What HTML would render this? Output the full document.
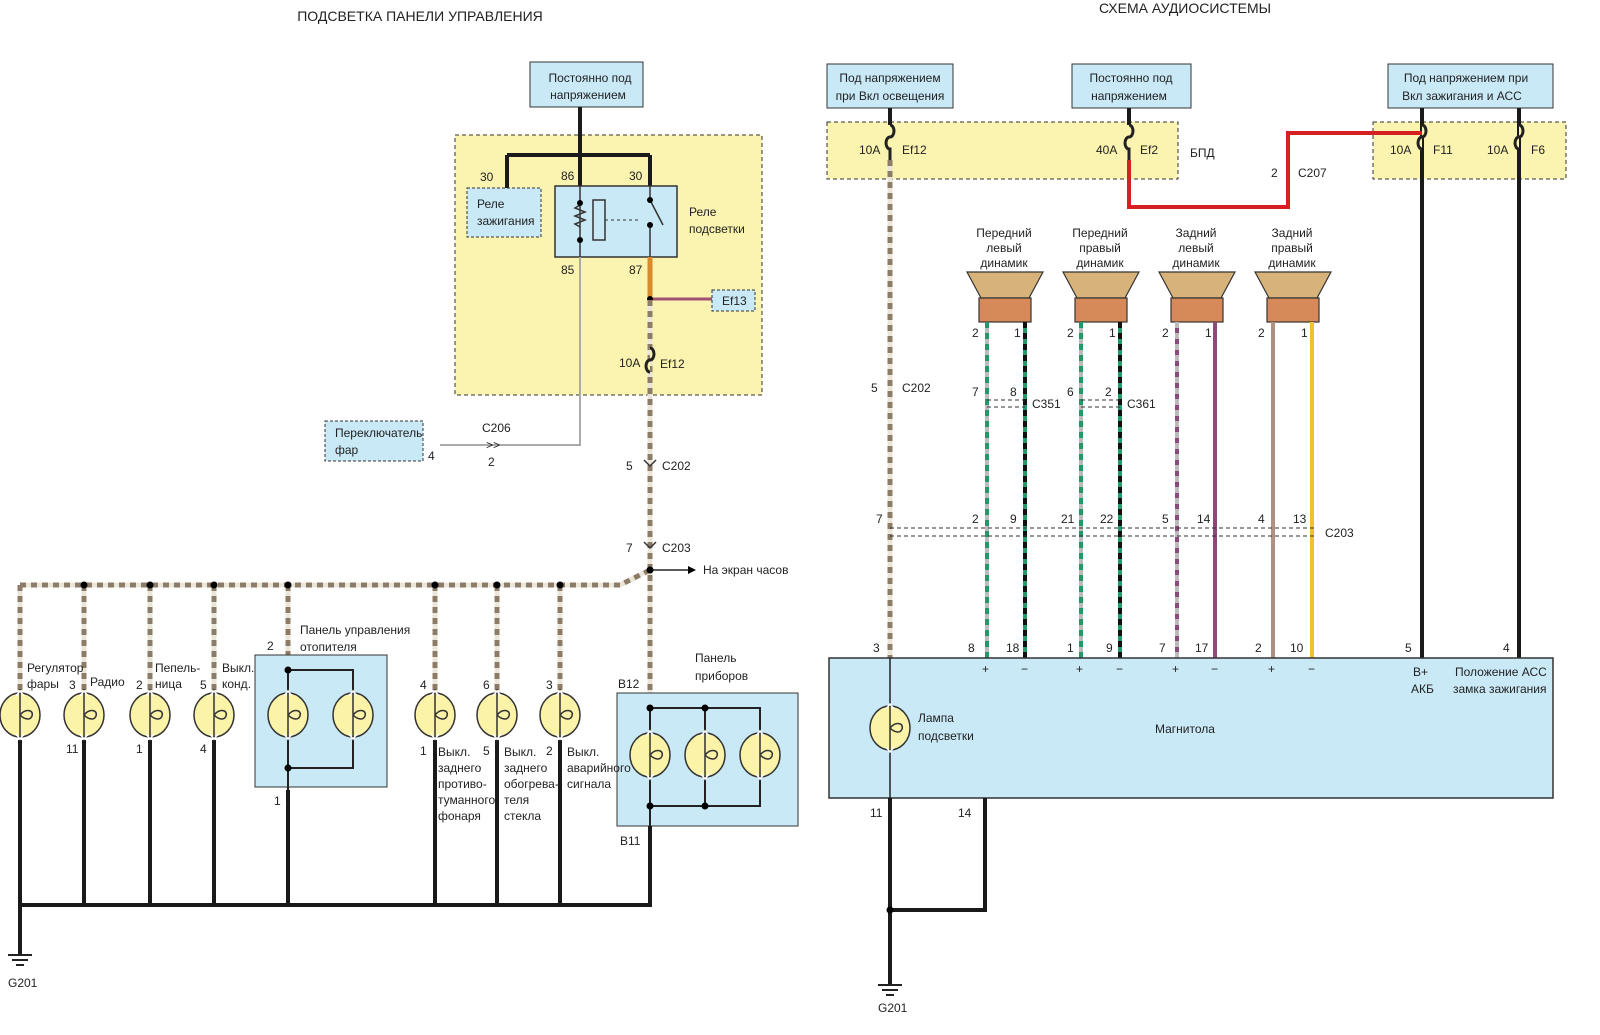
<!DOCTYPE html>
<html><head><meta charset="utf-8"><style>
html,body{margin:0;padding:0;background:#fff}
svg{display:block}
text{font-family:"Liberation Sans",sans-serif;font-size:12px;fill:#222}
.t{font-size:14px}
.w5b{stroke:#ece6da;stroke-width:5}
.w5d{stroke:#8c7b66;stroke-width:5;stroke-dasharray:6 5}
.blk{stroke:#1a1a1a;stroke-width:4;fill:none}
</style></head><body>
<svg width="1600" height="1035" viewBox="0 0 1600 1035" xmlns="http://www.w3.org/2000/svg">
<defs>
<symbol id="lamp" viewBox="-22 -26 44 52" overflow="visible">
<ellipse cx="0" cy="0" rx="20" ry="22" fill="#fbf3a8" stroke="#333" stroke-width="1.5"/>
<line x1="0" y1="-26" x2="0" y2="26" stroke="#333" stroke-width="1.5"/>
<path d="M0 0 C6 -7 14 -5 12 1 C10 6 4 4 0 0" fill="none" stroke="#333" stroke-width="1.5"/>
<path d="M-4 -19 L0 -24 L4 -19 M-4 19 L0 24 L4 19" fill="none" stroke="#fff" stroke-width="1.5"/>
</symbol>
</defs>

<!-- LEFT TITLE -->
<text x="420" y="21" class="t" text-anchor="middle">ПОДСВЕТКА ПАНЕЛИ УПРАВЛЕНИЯ</text>
<text x="1185" y="13" class="t" text-anchor="middle">СХЕМА АУДИОСИСТЕМЫ</text>

<!-- left top -->
<rect x="530" y="62" width="113" height="45" fill="#c9e9f7" stroke="#333"/>
<text x="590" y="82" text-anchor="middle">Постоянно под</text>
<text x="588" y="99" text-anchor="middle">напряжением</text>
<rect x="455" y="135" width="307" height="260" fill="#fbf3b0" stroke="#333" stroke-dasharray="4 3"/>
<path d="M580 107 V155 M507 155 H650 M507 155 V188 M580 155 V186 M650 155 V186" class="blk"/>
<rect x="467" y="188" width="74" height="49" fill="#c9e9f7" stroke="#333" stroke-dasharray="3 2"/>
<text x="477" y="208">Реле</text><text x="477" y="225">зажигания</text>
<rect x="555" y="186" width="122" height="71" fill="#c9e9f7" stroke="#333" stroke-width="1.5"/>
<text x="480" y="181">30</text><text x="561" y="180">86</text><text x="629" y="180">30</text>
<text x="561" y="274">85</text><text x="629" y="274">87</text>
<text x="689" y="216">Реле</text><text x="689" y="233">подсветки</text>
<path d="M580 186 V257 M650 186 V200 M650 225 V257" stroke="#333" stroke-width="1.5" fill="none"/>
<path d="M580 205 l-5 3 l10 4 l-10 4 l10 4 l-10 4 l5 3" stroke="#333" fill="none" stroke-width="1.5"/>
<rect x="593" y="200" width="12" height="40" fill="none" stroke="#333" stroke-width="1.5"/>
<path d="M605 220 H640 M650 200 L663 225" stroke="#333" stroke-dasharray="3 3" fill="none"/>
<path d="M650 200 L663 225" stroke="#333" stroke-width="1.5"/>
<circle cx="580" cy="203" r="3"/><circle cx="580" cy="240" r="3"/><circle cx="650" cy="200" r="3"/><circle cx="650" cy="225" r="3"/>
<line x1="650" y1="257" x2="650" y2="300" stroke="#d98a2b" stroke-width="5"/>
<line x1="650" y1="299" x2="712" y2="299" stroke="#a05070" stroke-width="3"/>
<circle cx="650" cy="299" r="3"/>
<rect x="712" y="290" width="43" height="21" fill="#c9e9f7" stroke="#333" stroke-dasharray="3 2"/>
<text x="722" y="305">Ef13</text>
<line x1="650" y1="300" x2="650" y2="585" class="w5b"/><line x1="650" y1="300" x2="650" y2="585" class="w5d"/>
<path d="M650 348 a4 6 0 0 1 0 12 a4 6 0 0 0 0 12" fill="#fbf3b0" stroke="#222" stroke-width="3"/>
<text x="619" y="367">10A</text><text x="660" y="368">Ef12</text>
<path d="M580 257 V445 H440" stroke="#aaa" stroke-width="2" fill="none"/>
<rect x="325" y="421" width="98" height="40" fill="#c9e9f7" stroke="#333" stroke-dasharray="3 2"/>
<text x="335" y="437">Переключатель</text><text x="335" y="454">фар</text>
<text x="428" y="460">4</text><text x="482" y="432">С206</text><text x="486" y="449">&gt;&gt;</text><text x="488" y="466">2</text>
<text x="626" y="470">5</text><text x="662" y="470">С202</text><text x="626" y="552">7</text><text x="662" y="552">С203</text>
<path d="M644 460 l6 6 l6 -6 M644 542 l6 6 l6 -6" stroke="#333" fill="none" stroke-width="1.5"/>
<line x1="650" y1="570" x2="690" y2="570" stroke="#222" stroke-width="1.5"/><path d="M688 566 l8 4 l-8 4z"/>
<text x="703" y="574">На экран часов</text>
<!-- bus -->
<path d="M20 585 H620 L650 570" class="w5b" fill="none"/><path d="M20 585 H620 L650 570" class="w5d" fill="none"/>
<g class="w5b"><path d="M20 585V705M84 585V705M150 585V705M214 585V705M288 585V670M435 585V705M497 585V705M560 585V705M650 585V705"/></g>
<g class="w5d"><path d="M20 585V705M84 585V705M150 585V705M214 585V705M288 585V670M435 585V705M497 585V705M560 585V705M650 585V705"/></g>
<g><circle cx="84" cy="585" r="3.5"/><circle cx="150" cy="585" r="3.5"/><circle cx="214" cy="585" r="3.5"/><circle cx="288" cy="585" r="3.5"/><circle cx="435" cy="585" r="3.5"/><circle cx="497" cy="585" r="3.5"/><circle cx="560" cy="585" r="3.5"/><circle cx="650" cy="570" r="3.5"/></g>
<rect x="255" y="655" width="132" height="132" fill="#c9e9f7" stroke="#333"/>
<rect x="617" y="693" width="181" height="133" fill="#c9e9f7" stroke="#333"/>
<path d="M288 670 V905 M288 670 H353 V768 H288 M650 705 V905 M650 708 H760 V806 H650 M705 708 V806" stroke="#222" stroke-width="2" fill="none"/>
<circle cx="288" cy="670" r="3.5"/><circle cx="288" cy="768" r="3.5"/><circle cx="650" cy="708" r="3.5"/><circle cx="705" cy="708" r="3.5"/><circle cx="650" cy="806" r="3.5"/><circle cx="705" cy="806" r="3.5"/>
<path d="M20 740V955 M84 740V905 M150 740V905 M214 740V905 M288 790V905 M435 740V905 M497 740V905 M560 740V905 M650 826V905 M18 905H652" class="blk"/>
<g><use href="#lamp" x="-2" y="689" width="44" height="52"/><use href="#lamp" x="62" y="689" width="44" height="52"/><use href="#lamp" x="128" y="689" width="44" height="52"/><use href="#lamp" x="192" y="689" width="44" height="52"/>
<use href="#lamp" x="266" y="689" width="44" height="52"/><use href="#lamp" x="331" y="689" width="44" height="52"/>
<use href="#lamp" x="413" y="689" width="44" height="52"/><use href="#lamp" x="475" y="689" width="44" height="52"/><use href="#lamp" x="538" y="689" width="44" height="52"/>
<use href="#lamp" x="628" y="729" width="44" height="52"/><use href="#lamp" x="683" y="729" width="44" height="52"/><use href="#lamp" x="738" y="729" width="44" height="52"/></g>
<path d="M8 955H32 M12 960H28 M16 965H24" stroke="#222" stroke-width="2"/>
<text x="8" y="987">G201</text>
<g style="font-size:11px"><text x="27" y="672">Регулятор</text><text x="27" y="688">фары</text>
<text x="69" y="689">3</text><text x="90" y="686">Радио</text><text x="66" y="753">11</text>
<text x="136" y="689">2</text><text x="155" y="672">Пепель-</text><text x="155" y="688">ница</text><text x="136" y="753">1</text>
<text x="200" y="689">5</text><text x="222" y="672">Выкл.</text><text x="222" y="688">конд.</text><text x="200" y="753">4</text>
<text x="267" y="650">2</text><text x="300" y="634">Панель управления</text><text x="300" y="651">отопителя</text><text x="274" y="805">1</text>
<text x="420" y="689">4</text><text x="483" y="689">6</text><text x="546" y="689">3</text>
<text x="420" y="755">1</text><text x="438" y="756">Выкл.</text><text x="438" y="772">заднего</text><text x="438" y="788">противо-</text><text x="438" y="804">туманного</text><text x="438" y="820">фонаря</text>
<text x="483" y="755">5</text><text x="504" y="756">Выкл.</text><text x="504" y="772">заднего</text><text x="504" y="788">обогрева-</text><text x="504" y="804">теля</text><text x="504" y="820">стекла</text>
<text x="546" y="755">2</text><text x="567" y="756">Выкл.</text><text x="567" y="772">аварийного</text><text x="567" y="788">сигнала</text>
<text x="695" y="662">Панель</text><text x="695" y="680">приборов</text><text x="618" y="688">B12</text><text x="620" y="845">B11</text></g>

<!-- RIGHT -->
<rect x="827" y="64" width="126" height="44" fill="#c9e9f7" stroke="#333"/>
<text x="890" y="82" text-anchor="middle">Под напряжением</text><text x="890" y="100" text-anchor="middle">при Вкл освещения</text>
<rect x="1072" y="64" width="119" height="44" fill="#c9e9f7" stroke="#333"/>
<text x="1131" y="82" text-anchor="middle">Постоянно под</text><text x="1129" y="100" text-anchor="middle">напряжением</text>
<rect x="1388" y="64" width="165" height="44" fill="#c9e9f7" stroke="#333"/>
<text x="1466" y="82" text-anchor="middle">Под напряжением при</text><text x="1462" y="100" text-anchor="middle">Вкл зажигания и АСС</text>
<rect x="827" y="122" width="351" height="57" fill="#fbf3b0" stroke="#333" stroke-dasharray="4 3"/>
<rect x="1373" y="122" width="193" height="57" fill="#fbf3b0" stroke="#333" stroke-dasharray="4 3"/>
<path d="M890 108V125 M1129 108V125 M1422 108V658 M1519 108V658" class="blk"/>
<path d="M1129 160 V207 H1288 V133 H1422" stroke="#d42020" stroke-width="4" fill="none"/>
<line x1="890" y1="160" x2="890" y2="658" class="w5b"/><line x1="890" y1="160" x2="890" y2="658" class="w5d"/>
<g fill="#fbf3b0" stroke="#222" stroke-width="3"><path d="M890 125 a4 6 0 0 1 0 12 a4 6 0 0 0 0 12 V160"/><path d="M1129 125 a4 6 0 0 1 0 12 a4 6 0 0 0 0 12 V160"/><path d="M1422 125 a4 6 0 0 1 0 12 a4 6 0 0 0 0 12"/><path d="M1519 125 a4 6 0 0 1 0 12 a4 6 0 0 0 0 12"/></g>
<text x="859" y="154">10A</text><text x="902" y="154">Ef12</text><text x="1096" y="154">40A</text><text x="1140" y="154">Ef2</text><text x="1190" y="157">БПД</text>
<text x="1390" y="154">10A</text><text x="1433" y="154">F11</text><text x="1487" y="154">10A</text><text x="1531" y="154">F6</text>
<text x="1271" y="177">2</text><text x="1298" y="177">С207</text>
<text x="871" y="392">5</text><text x="902" y="392">С202</text>
<!-- speakers -->
<g stroke="#333" stroke-width="1.2">
<path d="M967 272H1043L1029 298H981Z" fill="#d7b27a"/><rect x="979" y="298" width="52" height="24" fill="#d68a5a"/>
<path d="M1063 272H1139L1125 298H1077Z" fill="#d7b27a"/><rect x="1075" y="298" width="52" height="24" fill="#d68a5a"/>
<path d="M1159 272H1235L1221 298H1173Z" fill="#d7b27a"/><rect x="1171" y="298" width="52" height="24" fill="#d68a5a"/>
<path d="M1255 272H1331L1317 298H1269Z" fill="#d7b27a"/><rect x="1267" y="298" width="52" height="24" fill="#d68a5a"/>
</g>
<g style="font-size:12px" text-anchor="middle">
<text x="1004" y="237">Передний</text><text x="1004" y="252">левый</text><text x="1004" y="267">динамик</text>
<text x="1100" y="237">Передний</text><text x="1100" y="252">правый</text><text x="1100" y="267">динамик</text>
<text x="1196" y="237">Задний</text><text x="1196" y="252">левый</text><text x="1196" y="267">динамик</text>
<text x="1292" y="237">Задний</text><text x="1292" y="252">правый</text><text x="1292" y="267">динамик</text></g>
<g stroke-width="4">
<line x1="987" y1="322" x2="987" y2="658" stroke="#bbb"/><line x1="987" y1="322" x2="987" y2="658" stroke="#1f9a68" stroke-dasharray="6 5"/>
<line x1="1025" y1="322" x2="1025" y2="658" stroke="#1f9a68"/><line x1="1025" y1="322" x2="1025" y2="658" stroke="#111" stroke-dasharray="6 5"/>
<line x1="1081" y1="322" x2="1081" y2="658" stroke="#bbb"/><line x1="1081" y1="322" x2="1081" y2="658" stroke="#1f9a68" stroke-dasharray="6 5"/>
<line x1="1120" y1="322" x2="1120" y2="658" stroke="#1f9a68"/><line x1="1120" y1="322" x2="1120" y2="658" stroke="#111" stroke-dasharray="6 5"/>
<line x1="1177" y1="322" x2="1177" y2="658" stroke="#8a4a7a"/><line x1="1177" y1="322" x2="1177" y2="658" stroke="#bbb" stroke-dasharray="6 5"/>
<line x1="1215" y1="322" x2="1215" y2="658" stroke="#8a4a7a"/>
<line x1="1273" y1="322" x2="1273" y2="658" stroke="#b09080"/>
<line x1="1312" y1="322" x2="1312" y2="658" stroke="#f0c030"/></g>
<path d="M987 400H1025 M987 407H1025 M1081 400H1120 M1081 407H1120 M890 528H1315 M890 536H1315" stroke="#333" stroke-dasharray="4 3"/>
<g style="font-size:12px"><text x="972" y="337">2</text><text x="1014" y="337">1</text><text x="1067" y="337">2</text><text x="1109" y="337">1</text><text x="1162" y="337">2</text><text x="1205" y="337">1</text><text x="1258" y="337">2</text><text x="1301" y="337">1</text>
<text x="972" y="396">7</text><text x="1010" y="396">8</text><text x="1032" y="408">С351</text><text x="1067" y="396">6</text><text x="1105" y="396">2</text><text x="1127" y="408">С361</text>
<text x="876" y="523">7</text><text x="972" y="523">2</text><text x="1010" y="523">9</text><text x="1061" y="523">21</text><text x="1100" y="523">22</text><text x="1162" y="523">5</text><text x="1197" y="523">14</text><text x="1258" y="523">4</text><text x="1293" y="523">13</text><text x="1325" y="537">С203</text>
<text x="873" y="652">3</text><text x="968" y="652">8</text><text x="1006" y="652">18</text><text x="1067" y="652">1</text><text x="1106" y="652">9</text><text x="1159" y="652">7</text><text x="1195" y="652">17</text><text x="1255" y="652">2</text><text x="1290" y="652">10</text><text x="1405" y="652">5</text><text x="1503" y="652">4</text></g>
<rect x="829" y="658" width="724" height="140" fill="#c9e9f7" stroke="#333" stroke-width="1.5"/>
<g style="font-size:13px"><text x="982" y="673">+</text><text x="1021" y="673">−</text><text x="1076" y="673">+</text><text x="1116" y="673">−</text><text x="1172" y="673">+</text><text x="1211" y="673">−</text><text x="1268" y="673">+</text><text x="1308" y="673">−</text></g>
<text x="1413" y="676">B+</text><text x="1411" y="693">АКБ</text><text x="1455" y="676">Положение АСС</text><text x="1453" y="693">замка зажигания</text>
<text x="1155" y="733">Магнитола</text><text x="918" y="722">Лампа</text><text x="918" y="740">подсветки</text>
<line x1="890" y1="658" x2="890" y2="800" stroke="#222" stroke-width="1.5"/>
<use href="#lamp" x="868" y="702" width="44" height="52"/>
<path d="M890 798V985 M985 798V910H890" class="blk"/><circle cx="890" cy="910" r="3.5"/>
<text x="870" y="817">11</text><text x="958" y="817">14</text>
<path d="M878 985H902 M882 990H898 M886 995H894" stroke="#222" stroke-width="2"/>
<text x="878" y="1012">G201</text>
</svg>
</body></html>
